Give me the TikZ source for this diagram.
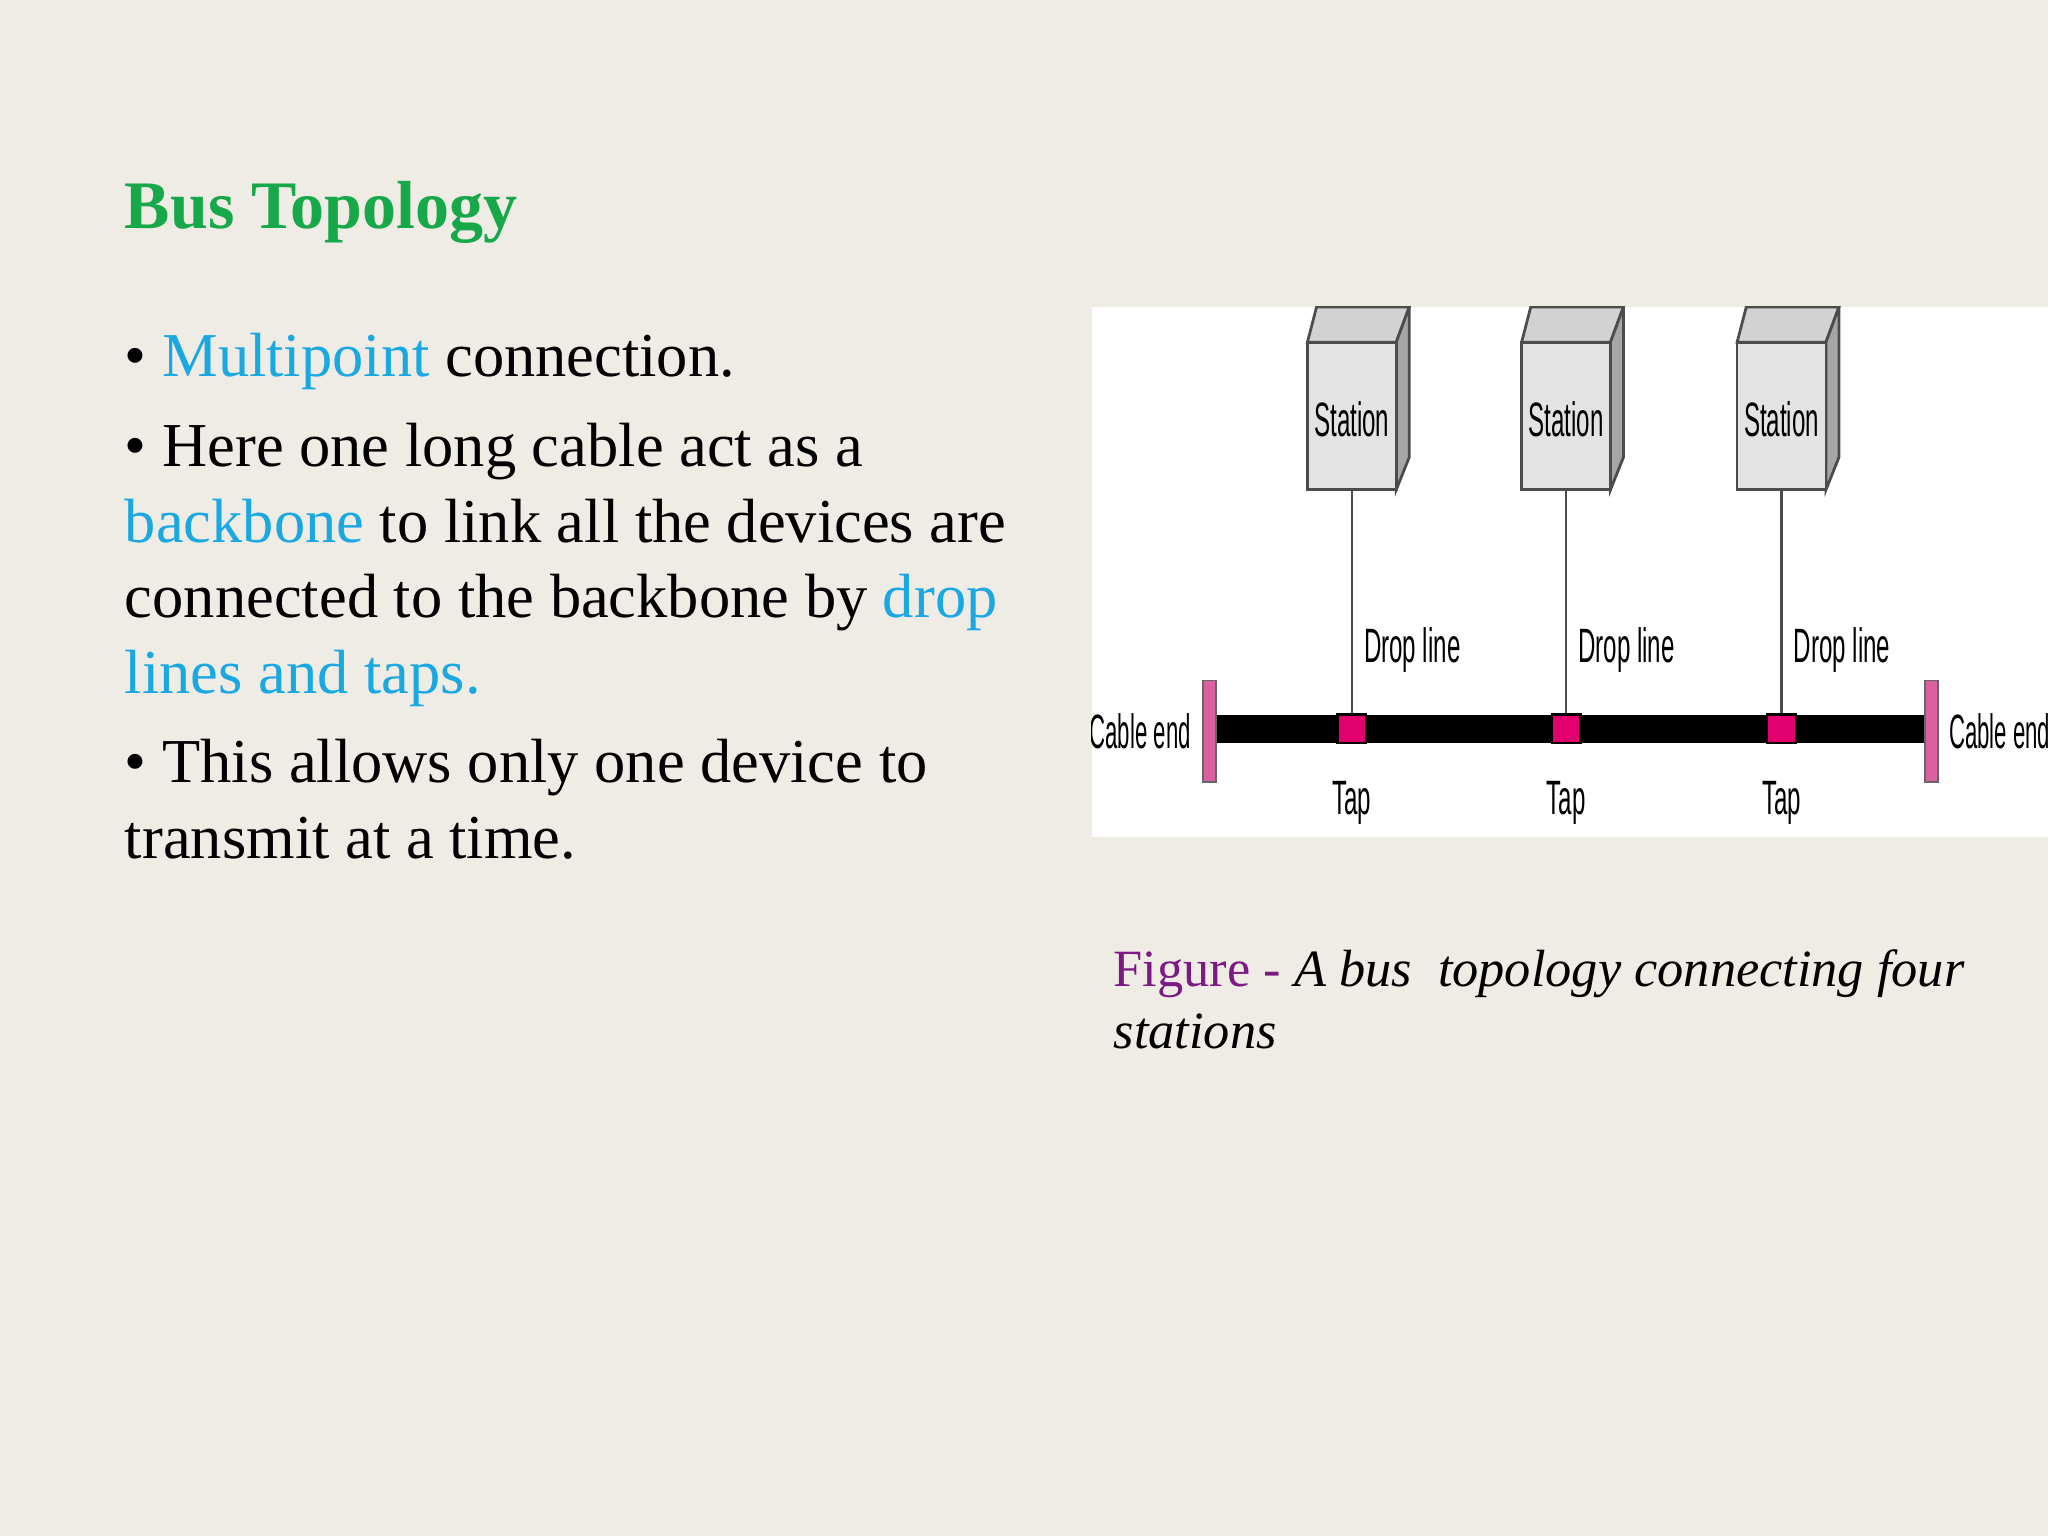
\documentclass[tikz,border=0pt]{standalone}
\usepackage{fontspec}
\setmainfont{Liberation Serif}
\newfontfamily\lab{Liberation Sans}
\definecolor{bg}{HTML}{EFEBE5}
\definecolor{tgreen}{HTML}{17A84A}
\definecolor{tblue}{HTML}{1AA8E2}
\definecolor{tpurp}{HTML}{7A1A82}
\definecolor{tap}{HTML}{E2006E}
\definecolor{cend}{HTML}{DC5FA0}
\tikzset{
 body/.style={anchor=base west,inner sep=0,font=\fontsize{13.6pt}{16pt}\selectfont},
 lbl/.style={inner sep=0,font=\lab\fontsize{10.5pt}{12pt}\selectfont,xscale=0.5},
 tapbox/.style={draw=black,line width=0.5pt,fill=tap,minimum size=0.22cm,inner sep=0},
}
\begin{document}
\begin{tikzpicture}[x=0.01cm,y=-0.01cm]
\fill[bg] (0,0) rectangle (1568,1176);
\useasboundingbox (0,0) rectangle (1568,1176);
\node[anchor=base west,inner sep=0,font=\fontsize{14.8pt}{18pt}\selectfont\bfseries,text=tgreen] (title) at (95,175) {Bus Topology};
\node[body] (l1) at (95,288) {• \textcolor{tblue}{Multipoint} connection.};
\node[body] (l2) at (95,357) {• Here one long cable act as a};
\node[body] (l3) at (95,415) {\textcolor{tblue}{backbone} to link all the devices are};
\node[body] (l4) at (95,473) {connected to the backbone by \textcolor{tblue}{drop}};
\node[body] (l5) at (95,531) {\textcolor{tblue}{lines and taps.}};
\node[body] (l6) at (95,599) {• This allows only one device to};
\node[body] (l7) at (95,657) {transmit at a time.};
% figure
\begin{scope}
\clip (836,235) rectangle (1568,641);
\fill[white] (836,235) rectangle (1568,641);
\draw[line width=6pt] (925,558) -- (1480,558);
\fill[cend,draw=black!60,line width=0.4pt] (921,521) rectangle (931,599);
\fill[cend,draw=black!60,line width=0.4pt] (1474,521) rectangle (1484,599);
\foreach \x/\n in {1035/a,1199/b,1364/c}{
  \fill[gray!35,draw=black!70,line width=0.6pt] (\x-34,262) -- (\x-27,235) -- (\x+44,235) -- (\x+34,262) -- cycle;
  \fill[gray!70,draw=black!70,line width=0.6pt] (\x+34,262) -- (\x+44,235) -- (\x+44,350) -- (\x+34,375) -- cycle;
  \node[draw=black!70,line width=0.6pt,fill=gray!22,minimum width=0.68cm,minimum height=1.13cm,inner sep=0] (st\n) at (\x,318.5) {};
  \node[lbl] (stl\n) at (\x,321) {Station};
  \node[tapbox] (tap\n) at (\x,558) {};
  \draw[black!70,line width=0.5pt] (st\n.south) -- (tap\n.north);
  \node[lbl,anchor=west] (dl\n) at (\x+9,498) {Drop line};
  \node[lbl] (tl\n) at (\x,615) {Tap};
}
\node[lbl,anchor=east,xscale=0.92] (ce1) at (912,560) {Cable end};
\node[lbl,anchor=west,xscale=0.92] (ce2) at (1492,560) {Cable end};
\end{scope}
\node[anchor=base west,inner sep=0,font=\fontsize{11.4pt}{14pt}\selectfont] (cap1) at (852,755) {\textcolor{tpurp}{Figure -} \textit{A bus\ \ topology connecting four}};
\node[anchor=base west,inner sep=0,font=\fontsize{11.4pt}{14pt}\selectfont\itshape] (cap2) at (852,803) {stations};
\end{tikzpicture}
\end{document}
